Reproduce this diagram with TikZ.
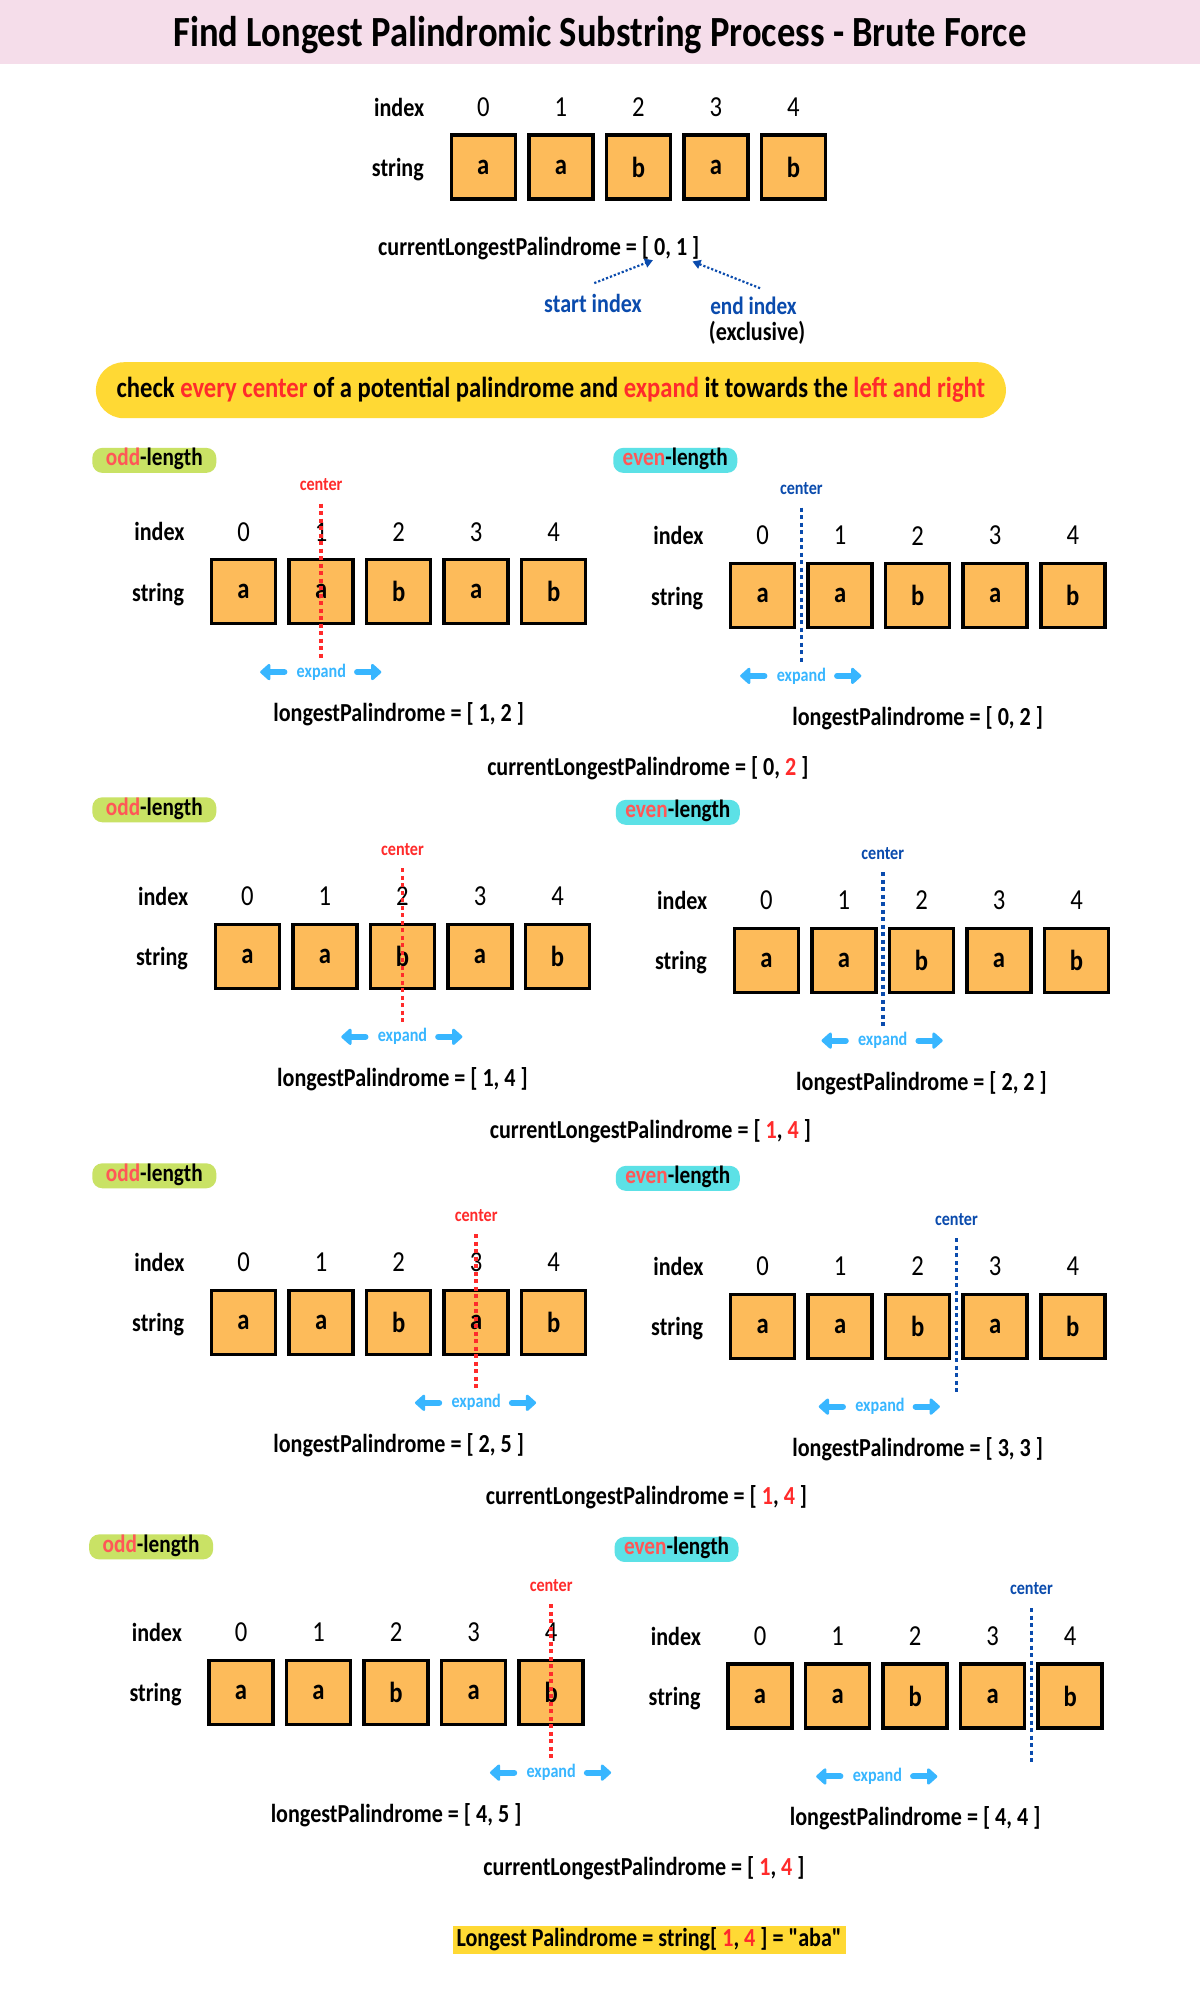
\documentclass[tikz,border=0pt]{standalone}
\usepackage{fontspec}
\setmainfont{Carlito}[FakeStretch=0.85]
\newfontfamily\qfont{Carlito}[FakeStretch=0.85, Ligatures=TeXOff]
\usetikzlibrary{arrows.meta,calc}
\definecolor{band}{HTML}{F5DDEA}
\definecolor{boxfill}{HTML}{FDBB5A}
\definecolor{byellow}{HTML}{FFD934}
\definecolor{pgreen}{HTML}{C9E265}
\definecolor{pcyan}{HTML}{5CE1E6}
\definecolor{hred}{HTML}{FF2B2B}
\definecolor{pred}{HTML}{FF5757}
\definecolor{cblue}{HTML}{0A4BAD}
\definecolor{lblue}{HTML}{38B6FF}
\newcommand\fs[1]{\fontsize{#1}{#1}\selectfont}
\newcommand\rd[1]{\textcolor{hred}{#1}}
\tikzset{
  sbox/.style={draw=black, line width=3.5pt, fill=boxfill, minimum width=64pt, minimum height=64pt, inner sep=0pt, font=\bfseries\fs{29}},
  lbl/.style={font=\bfseries\fs{26}, inner sep=1pt},
  dig/.style={font=\fs{29}, inner sep=1pt},
  clbl/.style={font=\bfseries\fs{19}, inner sep=1pt},
  cline/.style={line width=3.5pt, dash pattern=on 4pt off 3.5pt},
  exptext/.style={font=\bfseries\fs{19}, text=lblue, inner sep=1pt},
  exparr/.style={draw=lblue, line width=6pt, line cap=round, -{Triangle[width=19pt,length=11pt,round]}},
  bluearr/.style={draw=cblue, line width=2.2pt, dash pattern=on 2.2pt off 2pt, -{Triangle[width=9pt,length=8pt]}},
  pill/.style={rounded corners=10pt, minimum width=124pt, text height=16pt, text depth=5pt, inner ysep=2pt, inner xsep=4pt, font=\bfseries\fs{25}},
}
\newcommand\strrow[3]{%
  \node[lbl] (#1il) at ({#2-66},{#3-47}) {index};
  \node[lbl] (#1sl) at ({#2-67},{#3+2}) {string};
  \foreach \i/\c in {0/a,1/a,2/b,3/a,4/b}{%
    \node[dig] (#1d\i) at ({#2+60.8*\i},{#3-47}) {\i};
    \node[sbox] (#1b\i) at ({#2+60.8*\i},{#3}) {\c};
  }%
}
% #1 prefix, #2 line x, #3 box y, #4 colour, #5 long x, #6 long text, #7 expand x
\newcommand\centerpart[7]{%
  \node[clbl, text=#4] (#1cl) at ({#2},{#3-84}) {center};
  \coordinate (#1lt) at ({#2},{#3-69});
  \coordinate (#1lb) at ({#2},{#3+52});
  \draw[cline, draw=#4] (#1lt) -- (#1lb);
  \node[exptext] (#1ex) at ({#7},{#3+63}) {expand};
  \coordinate (#1aa) at ({#7-29},{#3+63});
  \coordinate (#1ab) at ({#7-48},{#3+63});
  \coordinate (#1ac) at ({#7+28},{#3+63});
  \coordinate (#1ad) at ({#7+47},{#3+63});
  \draw[exparr] (#1aa) -- (#1ab);
  \draw[exparr] (#1ac) -- (#1ad);
  \node[lbl] (#1lp) at ({#5},{#3+96}) {#6};
}
\begin{document}
\begin{tikzpicture}[x=1.27524pt,y=-1.27524pt]
\useasboundingbox (0,0) rectangle (941,1568.3);
\fill[white] (0,0) rectangle (941,1568.3);
% title band
\fill[band] (0,0) rectangle (941,50.5);
\node[font=\bfseries\fs{43}, inner sep=0pt] (title) at (470.5,27.5) {Find Longest Palindromic Substring Process - Brute Force};
% top array
\strrow{t}{379}{131}
\node[lbl] (tcur) at (422.5,195) {currentLongestPalindrome = [ 0, 1 ]};
\coordinate (sa1) at (466,222); \coordinate (sa2) at (512,204);
\coordinate (ea1) at (596,226); \coordinate (ea2) at (543,205);
\draw[bluearr] (sa1) -- (sa2);
\draw[bluearr] (ea1) -- (ea2);
\node[font=\bfseries\fs{26}, text=cblue, inner sep=1pt] (sidx) at (465,238) {start index};
\node[font=\bfseries\fs{25}, text=cblue, inner sep=1pt, anchor=west] (eidx) at (556,240) {end index};
\node[font=\bfseries\fs{26}, inner sep=1pt, anchor=west] (excl) at (555,261) {(exclusive)};
% banner
\node[fill=byellow, rounded corners=28pt, minimum width=910pt, minimum height=56pt, font=\bfseries\fs{29}] (banner) at (432,306)
 {check \rd{every center} of a potential palindrome and \rd{expand} it towards the \rd{left and right}};
% ---------- section 1
\node[pill, fill=pgreen] (oapill) at (121,361) {\textcolor{pred}{odd}-length};
\node[pill, fill=pcyan] (eapill) at (529.5,361) {\textcolor{pred}{even}-length};
\strrow{oa}{191}{464}
\centerpart{oa}{251.8}{464}{hred}{312.6}{longestPalindrome = [ 1, 2 ]}{252}
\strrow{ea}{598}{467}
\centerpart{ea}{628.4}{467}{cblue}{719.6}{longestPalindrome = [ 0, 2 ]}{628.4}
\node[lbl] (cura) at (508,602) {currentLongestPalindrome = [ 0, \rd{2} ]};
% ---------- section 2
\node[pill, fill=pgreen] (obpill) at (121,635) {\textcolor{pred}{odd}-length};
\node[pill, fill=pcyan] (ebpill) at (531.5,637) {\textcolor{pred}{even}-length};
\strrow{ob}{194}{750}
\centerpart{ob}{315.6}{750}{hred}{315.6}{longestPalindrome = [ 1, 4 ]}{315.6}
\strrow{eb}{601}{753}
\centerpart{eb}{692.2}{753}{cblue}{722.6}{longestPalindrome = [ 2, 2 ]}{692.2}
\node[lbl] (curb) at (510,887) {currentLongestPalindrome = [ \rd{1}, \rd{4} ]};
% ---------- section 3
\node[pill, fill=pgreen] (ocpill) at (121,922) {\textcolor{pred}{odd}-length};
\node[pill, fill=pcyan] (ecpill) at (531.5,924) {\textcolor{pred}{even}-length};
\strrow{oc}{191}{1037}
\centerpart{oc}{373.4}{1037}{hred}{312.6}{longestPalindrome = [ 2, 5 ]}{373.4}
\strrow{ec}{598}{1040}
\centerpart{ec}{750}{1040}{cblue}{719.6}{longestPalindrome = [ 3, 3 ]}{690}
\node[lbl] (curc) at (507,1174) {currentLongestPalindrome = [ \rd{1}, \rd{4} ]};
% ---------- section 4
\node[pill, fill=pgreen] (odpill) at (118.5,1213) {\textcolor{pred}{odd}-length};
\node[pill, fill=pcyan] (edpill) at (530.5,1215) {\textcolor{pred}{even}-length};
\strrow{od}{189}{1327}
\centerpart{od}{432.2}{1327}{hred}{310.6}{longestPalindrome = [ 4, 5 ]}{432.2}
\strrow{ed}{596}{1330}
\centerpart{ed}{808.8}{1330}{cblue}{717.6}{longestPalindrome = [ 4, 4 ]}{688}
\node[lbl] (curd) at (505,1465) {currentLongestPalindrome = [ \rd{1}, \rd{4} ]};
% final
\node[lbl, fill=byellow, minimum width=393pt, minimum height=28pt, inner sep=0pt] (final) at (509,1521)
 {Longest Palindrome = string[ \rd{1}, \rd{4} ] = {\qfont\bfseries "aba"}};
\end{tikzpicture}
\end{document}
